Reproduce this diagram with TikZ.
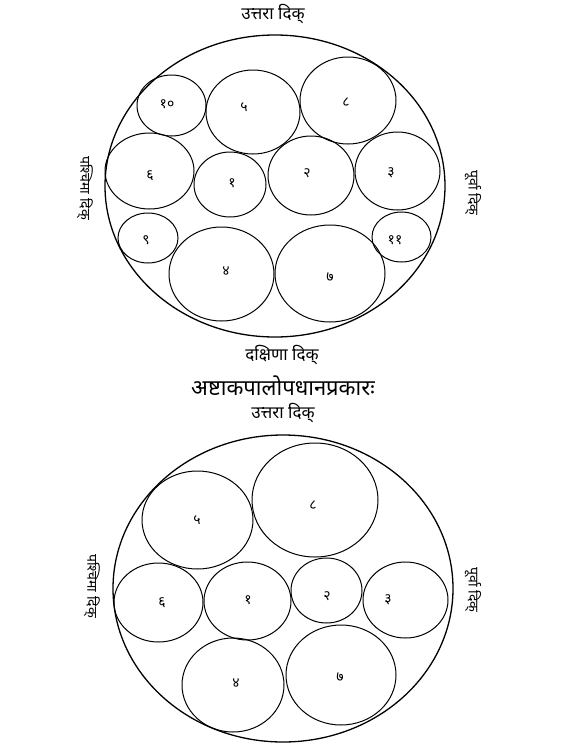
\documentclass[tikz,border=0pt]{standalone}
\usepackage{fontspec}
\newfontfamily\deva[Script=Devanagari]{Noto Sans}
\usetikzlibrary{shapes.geometric}
\begin{document}
\begin{tikzpicture}[x=1pt,y=-1pt,
  ring/.style={ellipse, draw, line width=1pt, inner sep=0pt},
  outer/.style={ellipse, draw, line width=1.3pt, inner sep=0pt},
  num/.style={font=\deva\fontsize{14}{14}\selectfont, inner sep=0pt},
  dir/.style={font=\deva\fontsize{14}{14}\selectfont, inner sep=0pt},
  hdir/.style={font=\deva\fontsize{17}{17}\selectfont, inner sep=0pt},
  ttl/.style={font=\deva\fontsize{22}{22}\selectfont, inner sep=0pt}]
\useasboundingbox (0,0) rectangle (560,750);
% ---------- top diagram ----------
\node[outer, minimum width=340, minimum height=302] (A) at (275,186) {};
\node[ring, minimum width=69, minimum height=61] (a10) at (171.5,105.5) {};
\node[ring, minimum width=94, minimum height=84] (a5) at (253,112) {};
\node[ring, minimum width=96, minimum height=87] (a8) at (348,100.5) {};
\node[ring, minimum width=89, minimum height=76] (a6) at (149.5,171) {};
\node[ring, minimum width=72, minimum height=65] (a1) at (230,184.5) {};
\node[ring, minimum width=86, minimum height=79] (a2) at (311,175.5) {};
\node[ring, minimum width=85, minimum height=78] (a3) at (397.5,171) {};
\node[ring, minimum width=60, minimum height=50] (a9) at (148,238) {};
\node[ring, minimum width=105, minimum height=94] (a4) at (221.5,274) {};
\node[ring, minimum width=110, minimum height=97] (a7) at (330,273.5) {};
\node[ring, minimum width=59, minimum height=50] (a11) at (401.5,237) {};
\node[num] (n10) at (167,104) {१०};
\node[num] (n5) at (244,107) {५};
\node[num] (n8) at (346,102) {८};
\node[num] (n6) at (150,176) {६};
\node[num] (n1) at (232,183) {१};
\node[num] (n2) at (307,173) {२};
\node[num] (n3) at (391,173) {३};
\node[num] (n9) at (146,240) {९};
\node[num] (n4) at (226,271) {४};
\node[num] (n7) at (330,277) {७};
\node[num] (n11) at (395,240) {११};
\node[hdir] (tN) at (273,14) {उत्तरा दिक्};
\node[dir, rotate=-90] (tW) at (85,188) {पश्चिमा दिक्};
\node[dir, rotate=-90] (tE) at (473,193) {पूर्वा दिक्};
\node[hdir] (tS) at (282,355) {दक्षिणा दिक्};
% ---------- title ----------
\node[ttl] (title) at (283,386) {अष्टाकपालोपधानप्रकारः};
% ---------- bottom diagram ----------
\node[outer, minimum width=340, minimum height=307] (B) at (283,588.5) {};
\node[ring, minimum width=111, minimum height=98] (b5) at (197.5,520) {};
\node[ring, minimum width=126, minimum height=114] (b8) at (315,500) {};
\node[ring, minimum width=89, minimum height=79] (b6) at (158.5,602.5) {};
\node[ring, minimum width=87, minimum height=78] (b1) at (247.5,601) {};
\node[ring, minimum width=71, minimum height=65] (b2) at (326.5,590.5) {};
\node[ring, minimum width=85, minimum height=76] (b3) at (405.5,600) {};
\node[ring, minimum width=102, minimum height=94] (b4) at (233,685) {};
\node[ring, minimum width=110, minimum height=100] (b7) at (341,675) {};
\node[num] (m5) at (197,520) {५};
\node[num] (m8) at (313,505) {८};
\node[num] (m6) at (162,603) {६};
\node[num] (m1) at (248,600) {१};
\node[num] (m2) at (327,596) {२};
\node[num] (m3) at (388,600) {३};
\node[num] (m4) at (236,683) {४};
\node[num] (m7) at (340,677) {७};
\node[hdir] (bN) at (283,413) {उत्तरा दिक्};
\node[dir, rotate=-90] (bW) at (92,586) {पश्चिमा दिक्};
\node[dir, rotate=-90] (bE) at (473,590) {पूर्वा दिक्};
\end{tikzpicture}
\end{document}
